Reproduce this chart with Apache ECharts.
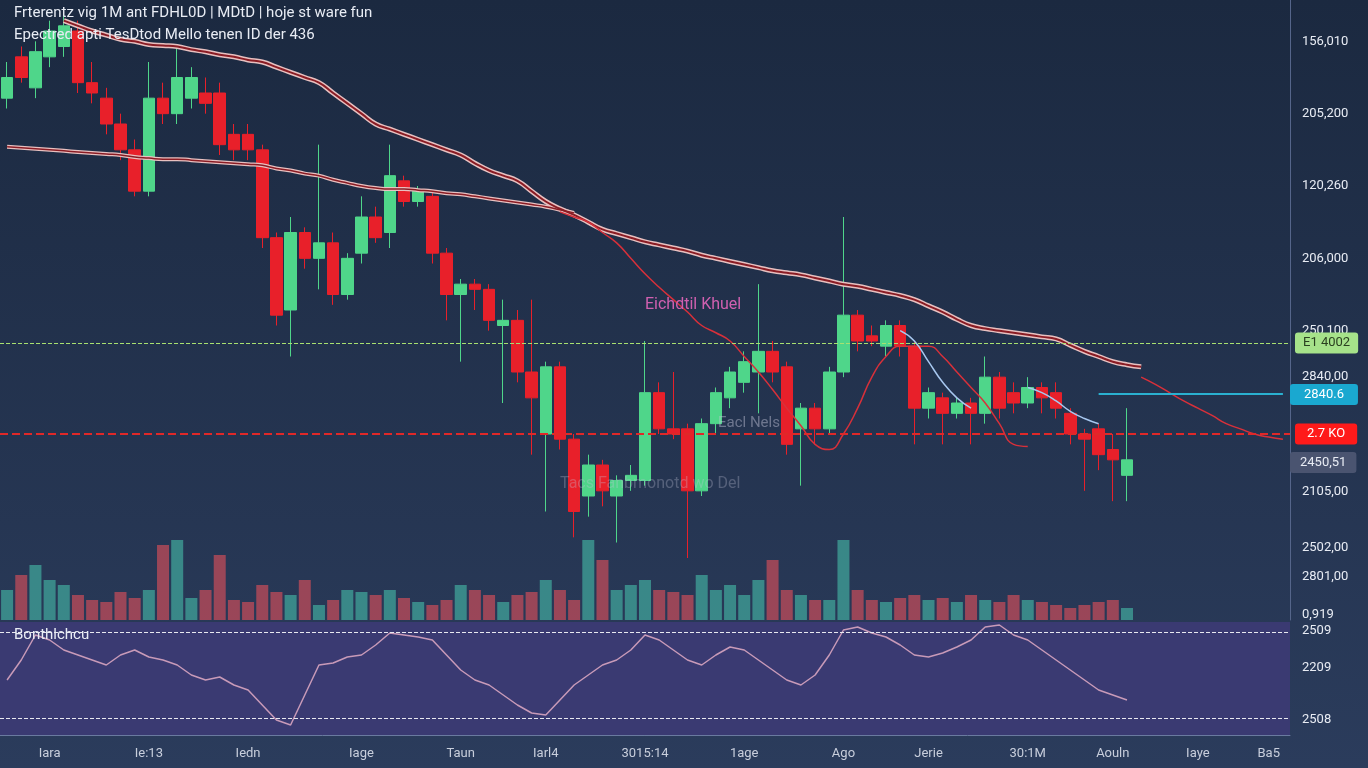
<!DOCTYPE html>
<html>
<head>
<meta charset="utf-8">
<script src="https://cdn.jsdelivr.net/npm/echarts@6/dist/echarts.min.js"></script>
<style>html,body{margin:0;padding:0;background:#1c2a42}#main{width:1368px;height:768px}</style>
</head>
<body>
<div id="main"></div>
<script>
// candles: [open, close, low, high]
const candles = [
  [525,545,515,560],[565,545,540,575],[535,570,525,580],[565,590,555,600],[575,595,565,605],
  [590,540,530,600],[540,530,520,560],[525,500,490,535],[500,475,465,510],[475,435,430,485],
  [435,525,430,560],[525,510,500,540],[510,545,500,575],[525,545,515,555],[530,520,510,545],
  [530,480,470,540],[490,475,465,500],[490,475,465,500],[475,390,380,480],[390,315,305,395],
  [320,395,275,410],[395,370,360,400],[370,385,340,480],[385,335,325,395],[335,370,330,375],
  [375,410,365,430],[410,390,385,420],[395,450,380,480],[445,425,420,450],[425,435,420,440],
  [430,375,365,435],[375,335,310,380],[335,345,270,350],[345,340,320,350],[340,310,300,345],
  [305,310,230,330],[310,260,250,320],[260,235,180,330],[200,265,125,270],[265,195,185,270],
  [195,125,100,200],[140,170,120,180],[170,145,130,175],[140,155,95,160],[155,160,145,170],
  [155,240,150,290],[240,205,200,250],[205,200,195,260],[205,145,80,210],[145,210,140,215],
  [210,240,200,245],[235,260,225,265],[250,270,240,280],[260,280,220,345],[280,260,250,290],
  [265,190,180,270],[205,225,150,230],[225,205,190,230],[205,260,200,265],[260,315,255,410],
  [315,290,280,320],[295,290,285,305],[285,305,275,310],[305,285,275,310],[285,225,190,290],
  [225,240,215,245],[235,220,190,240],[220,230,215,235],[230,220,190,235],[220,255,210,275],
  [255,225,215,260],[240,230,220,250],[230,245,225,255],[245,235,220,250],[240,225,215,250],
  [220,200,190,225],[200,195,145,205],[205,180,165,210],[185,175,135,200],[160,175,135,225]
];
const volumes = [
  30,45,55,40,35,25,20,18,28,22,30,75,80,22,30,65,20,18,35,28,
  25,40,15,20,30,28,25,30,22,18,15,20,35,30,25,18,25,28,40,30,
  20,80,60,30,35,40,30,28,25,45,30,35,25,40,60,30,25,20,20,80,
  30,20,18,22,25,20,22,18,25,20,18,25,20,18,15,12,15,18,20,12
];
const maSlow = [
  null,null,null,null,600,595,590,586,582,580,577,576,575,572,570,567,565,562,560,555,
  550,545,540,530,520,510,500,495,490,485,480,475,470,462,455,450,445,435,425,418,
  412,405,398,394,390,386,383,380,377,373,370,367,364,361,358,356,354,351,348,345,
  343,340,337,334,330,324,318,311,305,302,300,298,296,294,292,286,280,275,270,267,265,
  null,null,null,null,null,null,null,null,null,null
];
const maFast = [
  478,477,476,475,474,473,472,471,470,468,467,466,466,465,464,463,462,461,460,457,
  455,452,450,446,443,440,438,437,437,436,435,433,432,430,428,426,424,422,420,417,414
];
const maRed = [
  null,null,null,null,null,null,null,null,null,null,null,null,null,null,null,null,null,null,null,null,
  null,null,null,null,null,null,null,null,null,null,null,null,null,null,null,null,null,null,null,415,
  410,405,395,385,370,355,342,330,318,305,298,290,275,260,243,225,208,190,185,200,
  225,255,275,285,285,285,275,260,245,230,210,190,188,null,null,null,null,null,null,null,
  255,248,240,232,225,218,210,205,200,197,195
];
const maBlue = [];
for (let i = 0; i < 91; i++) maBlue.push(null);
[[63,300],[64,290],[65,270],[66,250],[67,235],[68,225],[72,245],[73,240],[74,232],[75,222],[76,215],[77,210]].forEach(p => maBlue[p[0]] = p[1]);
const oscValues = [
  55,75,100,95,85,80,75,70,80,85,78,75,70,60,55,58,50,45,30,15,
  10,40,70,72,78,80,90,102,100,98,95,80,65,55,50,40,30,22,20,35,
  50,60,70,75,85,100,95,85,75,70,80,88,85,75,65,55,50,60,80,105,
  108,102,98,90,80,78,82,88,95,108,110,100,95,85,75,65,55,45,40,35
];
const priceTicks = {580:'156,010',510:'205,200',440:'120,260',370:'206,000',300:'250,100',90:'2502,00'};
const xLabels = {3:'Iara',10:'Ie:13',17:'Iedn',25:'Iage',32:'Taun',38:'Iarl4',45:'3015:14',52:'1age',59:'Ago',65:'Jerie',72:'30:1M',78:'Aouln',84:'Iaye',89:'Ba5'};
const levels = {green: 288, cyan: 239, red: 200};

const cats = [];
for (let i = 0; i < 91; i++) cats.push(String(i));
const up = '#4fd68a', down = '#e8202a';
const volData = volumes.map((v, i) => ({
  value: v,
  itemStyle: {color: candles[i][1] >= candles[i][0] ? 'rgba(70,190,170,0.6)' : 'rgba(230,80,90,0.6)'}
}));
const txt = (x, y, s, extra) => ({type: 'text', left: x, top: y, z: 10,
  style: Object.assign({text: s, fill: '#e8ecf4', font: '13px Roboto'}, extra || {})});

const chart = echarts.init(document.getElementById('main'));
chart.setOption({
  animation: false,
  backgroundColor: {type:'linear',x:0,y:0,x2:0,y2:1,colorStops:[{offset:0,color:'#1b2940'},{offset:1,color:'#2b3c5c'}]},
  textStyle: {fontFamily: 'Roboto'},
  grid: [
    {left: 0, right: 78, top: 0, height: 620},
    {left: 0, right: 78, top: 540, height: 80},
    {left: 0, right: 78, top: 622, height: 113, show: true, backgroundColor: '#3a3a72', borderWidth: 0}
  ],
  xAxis: [0,1,2].map(g => ({
    type: 'category', data: cats, gridIndex: g, boundaryGap: true,
    axisLine: {show: g === 2, lineStyle: {color: '#6a7aa0'}}, axisTick: {show: false},
    splitLine: {show: false},
    axisLabel: {show: g === 2, color: '#c8cedc', fontSize: 13, margin: 12,
      interval: (i) => xLabels[i] !== undefined, formatter: (v) => xLabels[v] || ''}
  })),
  yAxis: [
    {gridIndex: 0, position: 'right', min: 20, max: 620, interval: 70,
      axisLine: {show: true, lineStyle: {color: '#55658a'}}, splitLine: {show: false}, axisTick: {show: false},
      axisLabel: {color: '#e8ecf4', fontSize: 13, margin: 12, formatter: (v) => priceTicks[v] || ''}},
    {gridIndex: 1, min: 0, max: 80, show: false},
    {gridIndex: 2, min: 0, max: 113, show: false}
  ],
  graphic: [
    txt(14, 6, 'Frterentz vig 1M ant FDHL0D | MDtD | hoje st ware fun', {font: '15px Roboto'}),
    txt(14, 28, 'Epectred apti TesDtod Mello tenen ID der 436', {font: '15px Roboto'}),
    txt(645, 297, 'Eichdtil Khuel', {fill: '#d060b0', font: '16px Roboto'}),
    txt(718, 416, 'Eacl Nels', {fill: 'rgba(200,200,220,0.45)', font: '15px Roboto'}),
    txt(560, 476, 'Tacs Fanbmonotd wo Del', {fill: 'rgba(200,200,220,0.3)', font: '16px Roboto'}),
    txt(14, 628, 'Bonthlchcu', {font: '15px Roboto'}),
    txt(1302, 370, '2840,00'),
    txt(1290, 384, '2840.6', {fill: '#fff', backgroundColor: '#1aa8d0', padding: [4,14], borderRadius: 3}),
    txt(1290, 452, '2450,51', {backgroundColor: '#4a5470', padding: [4,10], borderRadius: 3}),
    txt(1302, 485, '2105,00'),
    txt(1302, 570, '2801,00'),
    txt(1302, 608, '0,919'),
    txt(1302, 624, '2509'),
    txt(1302, 661, '2209'),
    txt(1302, 713, '2508')
  ],
  series: [
    {type: 'candlestick', xAxisIndex: 0, yAxisIndex: 0, data: candles, barWidth: 12,
      itemStyle: {color: up, color0: down, borderColor: up, borderColor0: down},
      markLine: {symbol: 'none', silent: true, data: [
        {yAxis: levels.green, lineStyle: {color: '#a8e070', type: 'dashed', width: 1},
          label: {position: 'end', formatter: 'E1 4002', color: '#2a4020', backgroundColor: '#a6e28a', padding: [4,8], borderRadius: 3, fontSize: 13}},
        {yAxis: levels.red, lineStyle: {color: '#e02828', type: 'dashed', width: 2},
          label: {position: 'end', formatter: '2.7 KO', color: '#fff', backgroundColor: '#ff1a1a', padding: [4,12], borderRadius: 3, fontSize: 13}},
        [{coord: ['77', levels.cyan], lineStyle: {color: '#2ab0d0', type: 'solid', width: 2}, label: {show: false}},
         {coord: ['90', levels.cyan]}]
      ]}},
    {type: 'line', xAxisIndex: 0, yAxisIndex: 0, data: maSlow, symbol: 'none', smooth: true,
      lineStyle: {color: '#e8c0c0', width: 5}, z: 3},
    {type: 'line', xAxisIndex: 0, yAxisIndex: 0, data: maSlow, symbol: 'none', smooth: true,
      lineStyle: {color: '#8a1c24', width: 2}, z: 4},
    {type: 'line', xAxisIndex: 0, yAxisIndex: 0, data: maFast, symbol: 'none', smooth: true,
      lineStyle: {color: '#e8c0c0', width: 4}, z: 3},
    {type: 'line', xAxisIndex: 0, yAxisIndex: 0, data: maFast, symbol: 'none', smooth: true,
      lineStyle: {color: '#8a1c24', width: 1.5}, z: 4},
    {type: 'line', xAxisIndex: 0, yAxisIndex: 0, data: maRed, symbol: 'none', smooth: true,
      lineStyle: {color: '#d8303a', width: 1.5}, z: 4},
    {type: 'line', xAxisIndex: 0, yAxisIndex: 0, data: maBlue, symbol: 'none', smooth: true,
      lineStyle: {color: '#a8c8f0', width: 1.5}, z: 4},
    {type: 'bar', xAxisIndex: 1, yAxisIndex: 1, data: volData, barWidth: 12},
    {type: 'line', xAxisIndex: 2, yAxisIndex: 2, data: oscValues, symbol: 'none',
      lineStyle: {color: '#c89ab8', width: 1.5},
      markLine: {symbol: 'none', silent: true, label: {show: false}, lineStyle: {color: '#e8e8f0', type: 'dashed', width: 1},
        data: [{yAxis: 103}, {yAxis: 17}]}}
  ]
});
</script>
</body>
</html>
